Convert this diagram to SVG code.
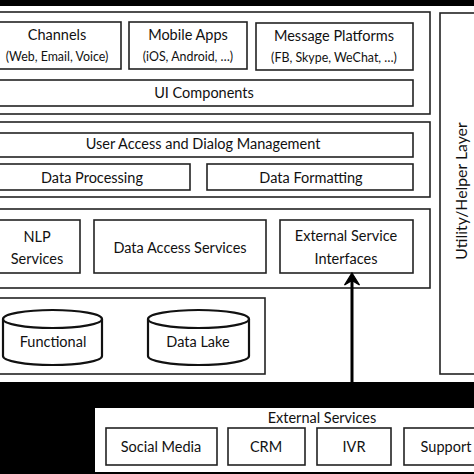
<svg xmlns="http://www.w3.org/2000/svg" width="474" height="474" viewBox="0 0 474 474">
<style>
.c{fill:#fff;stroke:#222;stroke-width:1.6}
.b{fill:#fff;stroke:#222;stroke-width:1.6}
.cy{fill:#fff;stroke:#111;stroke-width:2.2}
text{font-family:Lato,"Open Sans","Liberation Sans",sans-serif;fill:#111;text-anchor:middle}
.t{font-size:14.5px}
.s{font-size:12.4px}
.v{font-size:15.8px}
</style>
<rect x="0" y="0" width="474" height="474" fill="#fff"/>
<rect x="0" y="0" width="474" height="6" fill="#000"/>
<rect x="0" y="382" width="474" height="92" fill="#000"/>

<g id="ui-layer">
<rect class="c" x="-5" y="12" width="435" height="102"/>
</g>
<g id="channels"><rect class="b" x="-1" y="22" width="122" height="47"/>
<text class="t" x="57" y="40">Channels</text><text class="s" x="57" y="61">(Web, Email, Voice)</text></g>
<g id="mobile-apps"><rect class="b" x="129" y="22" width="118" height="47"/>
<text class="t" x="188" y="40">Mobile Apps</text><text class="s" x="188" y="61">(iOS, Android, …)</text></g>
<g id="message-platforms"><rect class="b" x="256" y="23" width="157" height="47"/>
<text class="t" x="334" y="41">Message Platforms</text><text class="s" x="334" y="62">(FB, Skype, WeChat, …)</text></g>
<g id="ui-components"><rect class="b" x="-5" y="80" width="418" height="26"/>
<text class="t" x="204" y="98">UI Components</text></g>

<g id="dialog-layer"><rect class="c" x="-5" y="122" width="435" height="75"/></g>
<g id="user-access"><rect class="b" x="-5" y="133" width="418" height="24"/>
<text class="t" x="203" y="149">User Access and Dialog Management</text></g>
<g id="data-processing"><rect class="b" x="-5" y="164" width="195" height="26"/>
<text class="t" x="92" y="183">Data Processing</text></g>
<g id="data-formatting"><rect class="b" x="207" y="164" width="206" height="26"/>
<text class="t" x="311" y="183">Data Formatting</text></g>

<g id="services-layer"><rect class="c" x="-5" y="209" width="435" height="79"/></g>
<g id="nlp-services"><rect class="b" x="-8" y="220" width="88" height="53"/>
<text class="t" x="37" y="242">NLP</text><text class="t" x="37" y="264">Services</text></g>
<g id="data-access-services"><rect class="b" x="94" y="220" width="172" height="53"/>
<text class="t" x="180" y="253">Data Access Services</text></g>
<g id="external-service-interfaces"><rect class="b" x="280" y="220" width="133" height="53"/>
<text class="t" x="346" y="241">External Service</text><text class="t" x="346" y="264">Interfaces</text></g>

<g id="data-layer"><rect class="c" x="-5" y="298" width="270" height="76"/></g>
<g id="functional">
<path class="cy" d="M3,319 L3,356 A49.5,9 0 0 0 102,356 L102,319"/>
<ellipse class="cy" cx="52.5" cy="319" rx="49.5" ry="9"/>
<text class="t" x="53" y="347">Functional</text></g>
<g id="data-lake">
<path class="cy" d="M148,319 L148,356 A50.5,9 0 0 0 249,356 L249,319"/>
<ellipse class="cy" cx="198.5" cy="319" rx="50.5" ry="9"/>
<text class="t" x="198" y="347">Data Lake</text></g>

<g id="utility-layer"><rect class="c" x="440" y="13" width="45" height="361"/>
<text class="v" transform="translate(467,191) rotate(-90)">Utility/Helper Layer</text></g>

<g id="external-services"><rect x="95" y="408" width="390" height="64" fill="#fff"/>
<text class="t" x="322" y="423">External Services</text></g>
<g id="social-media"><rect class="b" x="106" y="428" width="111" height="37"/>
<text class="t" x="161" y="452">Social Media</text></g>
<g id="crm"><rect class="b" x="228" y="428" width="77" height="37"/>
<text class="t" x="266" y="452">CRM</text></g>
<g id="ivr"><rect class="b" x="317" y="428" width="74" height="37"/>
<text class="t" x="354" y="452">IVR</text></g>
<g id="support"><rect class="b" x="404" y="428" width="84" height="37"/>
<text class="t" x="446" y="452">Support</text></g>

<g id="connectors">
<line x1="352" y1="382" x2="352" y2="279" stroke="#000" stroke-width="3"/>
<path d="M352,273 L359.5,285 L352,280.5 L344.5,285 Z" fill="#000" stroke="#000" stroke-width="1.2" stroke-linejoin="miter"/>
</g>
</svg>
